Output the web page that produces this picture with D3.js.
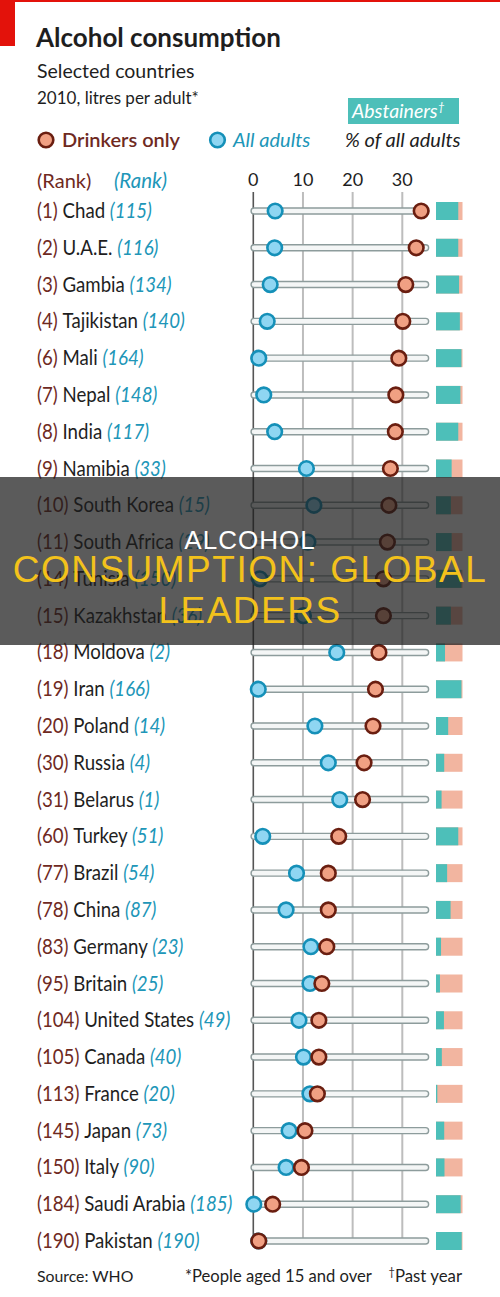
<!DOCTYPE html>
<html><head><meta charset="utf-8">
<script src="https://cdn.jsdelivr.net/npm/d3@7"></script>
<style>
html,body{margin:0;padding:0;background:#fff;}
svg{display:block;}
</style></head>
<body>
<script>
const countries = ["Chad","U.A.E.","Gambia","Tajikistan","Mali","Nepal","India","Namibia","South Korea","South Africa","Tunisia","Kazakhstan","Moldova","Iran","Poland","Russia","Belarus","Turkey","Brazil","China","Germany","Britain","United States","Canada","France","Japan","Italy","Saudi Arabia","Pakistan"];
const rankDrinkers = [1,2,3,4,6,7,8,9,10,11,14,15,18,19,20,30,31,60,77,78,83,95,104,105,113,145,150,184,190];
const rankAdults = [115,116,134,140,164,148,117,33,15,29,150,36,2,166,14,4,1,51,54,87,23,25,49,40,20,73,90,185,190];
const drinkersOnly = [33.8,32.8,30.7,30.1,29.3,28.7,28.6,27.6,27.3,27.0,26.2,26.2,25.3,24.6,24.1,22.3,22.0,17.2,15.1,15.1,14.8,13.8,13.2,13.2,12.9,10.4,9.7,3.9,1.1];
const allAdults = [4.4,4.3,3.4,2.8,1.1,2.1,4.3,10.7,12.2,11.0,1.3,10.1,16.8,1.0,12.4,15.1,17.4,1.9,8.7,6.6,11.6,11.4,9.2,10.1,11.4,7.2,6.6,0.1,1.1];
const abstainers = [84,84,87,90,96,92,84,59,56,59,96,56,34,96,46,31,21,84,42,55,19,15,30,22,5,31,32,93,97];
const ticks = [0,10,20,30];

const W = 500, H = 1297;
const svg = d3.select("body").append("svg").attr("width", W).attr("height", H);
const F = "Lato, 'Open Sans', sans-serif";
const BROWN = "#6f2a1f", TEAL_TXT = "#2096b8", DARK = "#1e1e1e";
const SAL_FILL = "#f0a083", SAL_STROKE = "#6a1e10";
const BLUE_FILL = "#8fd6f2", BLUE_STROKE = "#1590b8";
const ABS = "#4dbfb9", ABS_REST = "#f2b5a0";

const x = d3.scaleLinear().domain([0, 30]).range([253.3, 402.3]);
const y = d3.scaleLinear().domain([0, countries.length - 1]).range([211, 1241]);
const pct = d3.scaleLinear().domain([0, 100]).range([436, 462.5]);

// red header marks
svg.append("rect").attr("x", 0).attr("y", 0).attr("width", W).attr("height", 2).attr("fill", "#e3120b");
svg.append("rect").attr("x", 0).attr("y", 0).attr("width", 15).attr("height", 46).attr("fill", "#e3120b");

// titles
svg.append("text").attr("x", 36).attr("y", 47).attr("font-family", F).attr("font-weight", 700)
  .attr("font-size", 26).attr("fill", DARK).text("Alcohol consumption");
svg.append("text").attr("x", 37).attr("y", 78).attr("font-family", F)
  .attr("font-size", 19.5).attr("fill", DARK).text("Selected countries");
svg.append("text").attr("x", 37).attr("y", 104).attr("font-family", F)
  .attr("font-size", 17).attr("fill", DARK).text("2010, litres per adult*");

// legend
svg.append("circle").attr("cx", 46).attr("cy", 140).attr("r", 7.3).attr("fill", SAL_FILL).attr("stroke", SAL_STROKE).attr("stroke-width", 2.6);
svg.append("text").attr("x", 62).attr("y", 147).attr("font-family", F).attr("font-weight", 600)
  .attr("font-size", 20).attr("fill", BROWN).text("Drinkers only");
svg.append("circle").attr("cx", 217.5).attr("cy", 140).attr("r", 7.3).attr("fill", BLUE_FILL).attr("stroke", BLUE_STROKE).attr("stroke-width", 2.6);
svg.append("text").attr("x", 233).attr("y", 147).attr("font-family", F).attr("font-style", "italic")
  .attr("font-size", 20).attr("fill", TEAL_TXT).text("All adults");
svg.append("text").attr("x", 345).attr("y", 147).attr("font-family", F).attr("font-style", "italic")
  .attr("font-size", 20).attr("fill", DARK).text("% of all adults");
svg.append("rect").attr("x", 348).attr("y", 98).attr("width", 111).attr("height", 26).attr("fill", ABS);
const absT = svg.append("text").attr("x", 352).attr("y", 118).attr("font-family", F).attr("font-style", "italic")
  .attr("font-size", 19.5).attr("fill", "#fff");
absT.append("tspan").text("Abstainers");
absT.append("tspan").attr("font-size", 12).attr("dy", -7).text("†");

// column headers
svg.append("text").attr("x", 37).attr("y", 188).attr("font-family", F).attr("font-size", 20).attr("fill", BROWN).text("(Rank)");
svg.append("text").attr("x", 114).attr("y", 188).attr("font-family", F).attr("font-style", "italic").attr("font-size", 20.5).attr("fill", TEAL_TXT).text("(Rank)");

// axis ticks
svg.append("g").selectAll("text").data(ticks).join("text")
  .attr("x", d => x(d)).attr("y", 186).attr("text-anchor", "middle")
  .attr("font-family", F).attr("font-size", 18).attr("fill", DARK).text(d => d);

// gridlines
svg.append("g").selectAll("line").data(ticks).join("line")
  .attr("x1", d => x(d)).attr("x2", d => x(d)).attr("y1", 192).attr("y2", 1240)
  .attr("stroke", d => d === 0 ? "#555" : "#bdbdbd").attr("stroke-width", d => d === 0 ? 1.6 : 2);

const rows = svg.append("g").selectAll("g").data(countries).join("g")
  .attr("transform", (d, i) => `translate(0,${y(i)})`);

// track
rows.append("rect").attr("x", x(-0.45)).attr("y", -3).attr("width", x(35.3) - x(-0.45)).attr("height", 6)
  .attr("rx", 3).attr("fill", "#f4f6f6").attr("stroke", "#8d9c9c").attr("stroke-width", 1.4);

// abstainers
rows.append("rect").attr("x", pct(0)).attr("y", -9).attr("width", pct(100) - pct(0)).attr("height", 18).attr("fill", ABS_REST);
rows.append("rect").attr("x", pct(0)).attr("y", -9).attr("width", (d, i) => pct(abstainers[i]) - pct(0)).attr("height", 18).attr("fill", ABS);

// dots
rows.append("circle").attr("cx", (d, i) => x(allAdults[i])).attr("cy", 0).attr("r", 7.3)
  .attr("fill", BLUE_FILL).attr("stroke", BLUE_STROKE).attr("stroke-width", 2.6);
rows.append("circle").attr("cx", (d, i) => x(drinkersOnly[i])).attr("cy", 0).attr("r", 7.3)
  .attr("fill", SAL_FILL).attr("stroke", SAL_STROKE).attr("stroke-width", 2.6);

// labels
const lab = rows.append("text").attr("transform", "translate(37,7) scale(0.91,1)").attr("font-family", F).attr("font-size", 20.5);
lab.append("tspan").attr("fill", BROWN).text((d, i) => `(${rankDrinkers[i]}) `);
lab.append("tspan").attr("fill", DARK).text(d => d + " ");
lab.append("tspan").attr("fill", TEAL_TXT).attr("font-style", "italic").text((d, i) => `(${rankAdults[i]})`);

// footer
svg.append("text").attr("x", 37).attr("y", 1282).attr("font-family", F).attr("font-size", 15.8).attr("fill", DARK).text("Source: WHO");
svg.append("text").attr("x", 185).attr("y", 1282).attr("font-family", F).attr("font-size", 16.6).attr("fill", DARK).text("*People aged 15 and over");
const pt = svg.append("text").attr("x", 462).attr("y", 1282).attr("text-anchor", "end").attr("font-family", F).attr("font-size", 16.8).attr("fill", DARK);
pt.append("tspan").attr("font-size", 11).attr("dy", -6).text("†");
pt.append("tspan").attr("dy", 6).text("Past year");

// overlay banner
svg.append("rect").attr("x", 0).attr("y", 477).attr("width", W).attr("height", 168).attr("fill", "rgba(28,28,28,0.72)");
const OF = "'Liberation Sans', Arial, sans-serif";
svg.append("text").attr("x", 250).attr("y", 549).attr("text-anchor", "middle").attr("font-family", OF)
  .attr("font-size", 26).attr("letter-spacing", 1).attr("fill", "#fff").text("ALCOHOL");
svg.append("text").attr("x", 250).attr("y", 582).attr("text-anchor", "middle").attr("font-family", OF)
  .attr("font-size", 37).attr("letter-spacing", 1.5).attr("fill", "#f3c21b").text("CONSUMPTION: GLOBAL");
svg.append("text").attr("x", 250).attr("y", 623).attr("text-anchor", "middle").attr("font-family", OF)
  .attr("font-size", 37).attr("letter-spacing", 1.5).attr("fill", "#f3c21b").text("LEADERS");
</script>
</body></html>
